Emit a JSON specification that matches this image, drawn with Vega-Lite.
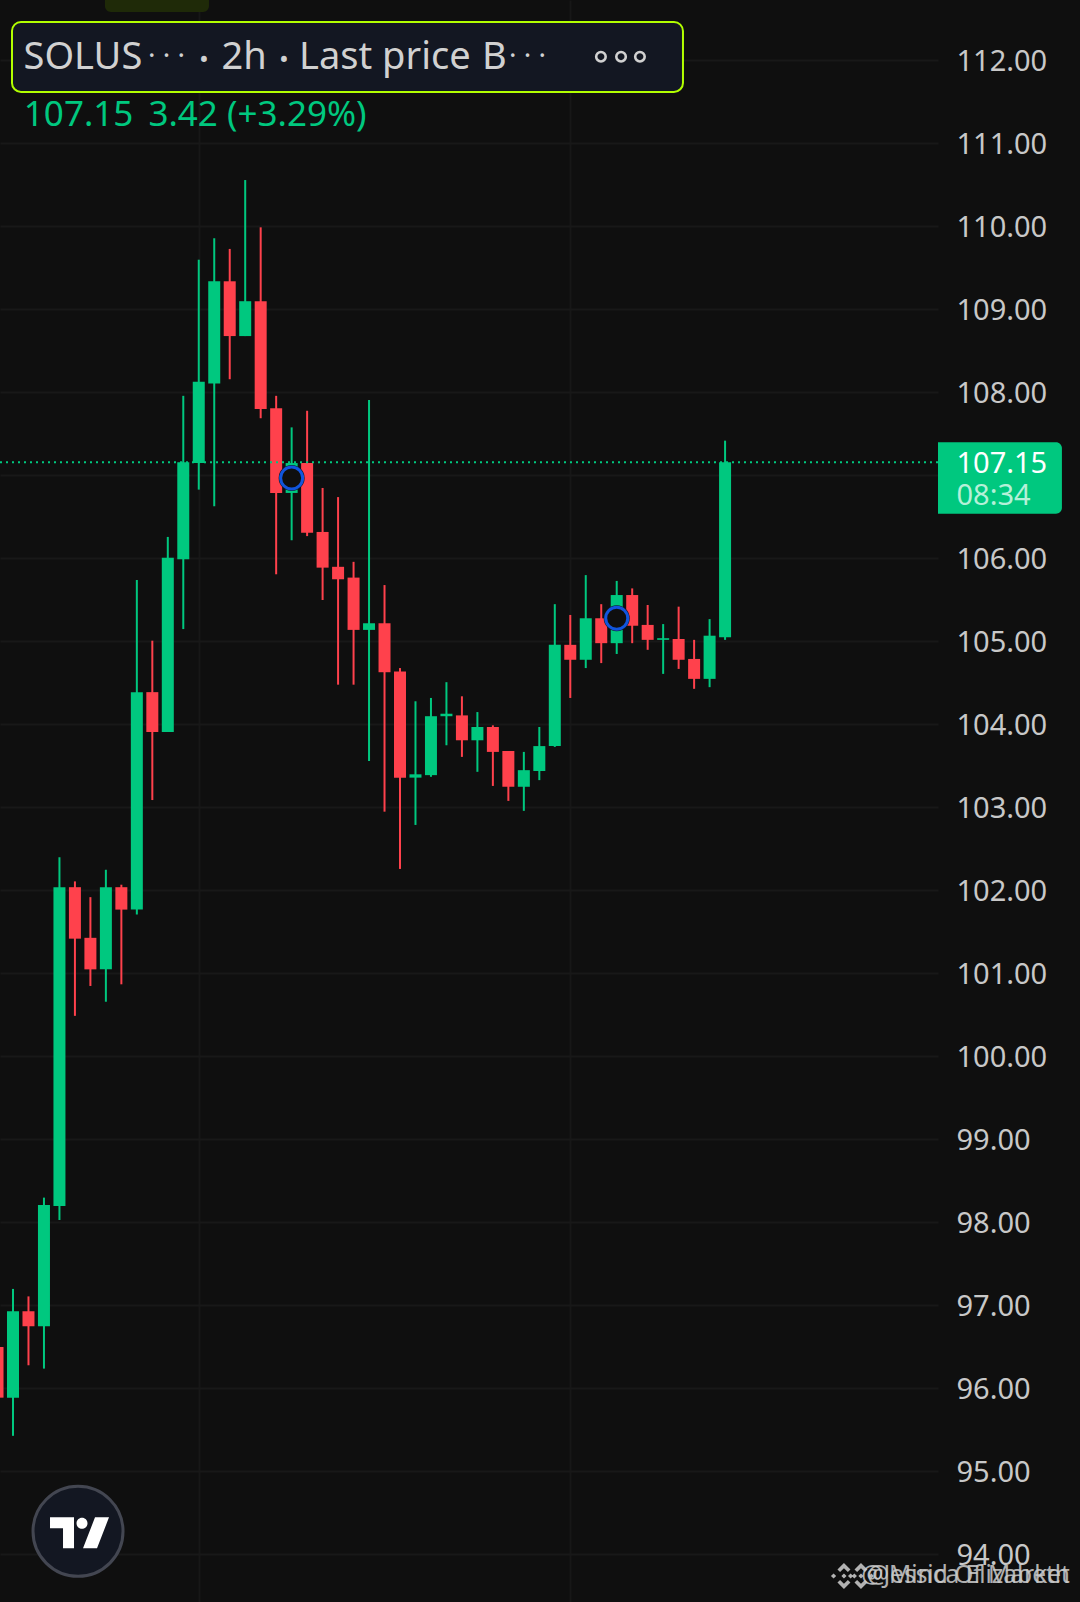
{
  "$schema": "https://vega.github.io/schema/vega-lite/v6.json",
  "width": 938,
  "height": 1602,
  "autosize": {"type": "none"},
  "padding": {"left": 0, "top": 0, "right": 142, "bottom": 0},
  "background": "#0f0f0f",
  "config": {"view": {"stroke": null}, "font": "Noto Sans"},
  "data": {"values": [
    {"candle": -1, "dir": "down", "open": 96.49, "high": 96.49, "low": 95.88, "close": 95.88},
    {"candle": 0, "dir": "up", "open": 95.88, "high": 97.19, "low": 95.42, "close": 96.92},
    {"candle": 1, "dir": "down", "open": 96.92, "high": 97.10, "low": 96.27, "close": 96.74},
    {"candle": 2, "dir": "up", "open": 96.74, "high": 98.29, "low": 96.23, "close": 98.20},
    {"candle": 3, "dir": "up", "open": 98.19, "high": 102.39, "low": 98.02, "close": 102.03},
    {"candle": 4, "dir": "down", "open": 102.03, "high": 102.10, "low": 100.48, "close": 101.41},
    {"candle": 5, "dir": "down", "open": 101.42, "high": 101.91, "low": 100.84, "close": 101.04},
    {"candle": 6, "dir": "up", "open": 101.04, "high": 102.24, "low": 100.65, "close": 102.03},
    {"candle": 7, "dir": "down", "open": 102.03, "high": 102.06, "low": 100.86, "close": 101.76},
    {"candle": 8, "dir": "up", "open": 101.76, "high": 105.73, "low": 101.70, "close": 104.38},
    {"candle": 9, "dir": "down", "open": 104.38, "high": 105.00, "low": 103.08, "close": 103.90},
    {"candle": 10, "dir": "up", "open": 103.90, "high": 106.25, "low": 103.90, "close": 106.00},
    {"candle": 11, "dir": "up", "open": 105.98, "high": 107.95, "low": 105.14, "close": 107.15},
    {"candle": 12, "dir": "up", "open": 107.14, "high": 109.59, "low": 106.82, "close": 108.12},
    {"candle": 13, "dir": "up", "open": 108.10, "high": 109.85, "low": 106.62, "close": 109.33},
    {"candle": 14, "dir": "down", "open": 109.33, "high": 109.72, "low": 108.15, "close": 108.67},
    {"candle": 15, "dir": "up", "open": 108.67, "high": 110.55, "low": 108.67, "close": 109.09},
    {"candle": 16, "dir": "down", "open": 109.09, "high": 109.98, "low": 107.68, "close": 107.79},
    {"candle": 17, "dir": "down", "open": 107.80, "high": 107.95, "low": 105.80, "close": 106.78},
    {"candle": 18, "dir": "up", "open": 106.78, "high": 107.57, "low": 106.21, "close": 107.14},
    {"candle": 19, "dir": "down", "open": 107.14, "high": 107.77, "low": 106.26, "close": 106.30},
    {"candle": 20, "dir": "down", "open": 106.31, "high": 106.84, "low": 105.49, "close": 105.88},
    {"candle": 21, "dir": "down", "open": 105.89, "high": 106.73, "low": 104.47, "close": 105.74},
    {"candle": 22, "dir": "down", "open": 105.76, "high": 105.95, "low": 104.47, "close": 105.13},
    {"candle": 23, "dir": "up", "open": 105.13, "high": 107.90, "low": 103.55, "close": 105.21},
    {"candle": 24, "dir": "down", "open": 105.21, "high": 105.67, "low": 102.94, "close": 104.62},
    {"candle": 25, "dir": "down", "open": 104.63, "high": 104.67, "low": 102.25, "close": 103.35},
    {"candle": 26, "dir": "up", "open": 103.35, "high": 104.27, "low": 102.78, "close": 103.39},
    {"candle": 27, "dir": "up", "open": 103.38, "high": 104.31, "low": 103.36, "close": 104.09},
    {"candle": 28, "dir": "up", "open": 104.09, "high": 104.50, "low": 103.74, "close": 104.12},
    {"candle": 29, "dir": "down", "open": 104.10, "high": 104.33, "low": 103.60, "close": 103.80},
    {"candle": 30, "dir": "up", "open": 103.80, "high": 104.14, "low": 103.42, "close": 103.96},
    {"candle": 31, "dir": "down", "open": 103.96, "high": 103.98, "low": 103.25, "close": 103.66},
    {"candle": 32, "dir": "down", "open": 103.67, "high": 103.67, "low": 103.07, "close": 103.24},
    {"candle": 33, "dir": "up", "open": 103.24, "high": 103.66, "low": 102.95, "close": 103.44},
    {"candle": 34, "dir": "up", "open": 103.43, "high": 103.96, "low": 103.32, "close": 103.73},
    {"candle": 35, "dir": "up", "open": 103.73, "high": 105.44, "low": 103.72, "close": 104.95},
    {"candle": 36, "dir": "down", "open": 104.95, "high": 105.31, "low": 104.31, "close": 104.77},
    {"candle": 37, "dir": "up", "open": 104.77, "high": 105.79, "low": 104.67, "close": 105.27},
    {"candle": 38, "dir": "down", "open": 105.27, "high": 105.44, "low": 104.73, "close": 104.97},
    {"candle": 39, "dir": "up", "open": 104.97, "high": 105.72, "low": 104.84, "close": 105.55},
    {"candle": 40, "dir": "down", "open": 105.55, "high": 105.63, "low": 104.97, "close": 105.18},
    {"candle": 41, "dir": "down", "open": 105.19, "high": 105.43, "low": 104.89, "close": 105.01},
    {"candle": 42, "dir": "up", "open": 105.01, "high": 105.20, "low": 104.60, "close": 105.03},
    {"candle": 43, "dir": "down", "open": 105.02, "high": 105.41, "low": 104.66, "close": 104.77},
    {"candle": 44, "dir": "down", "open": 104.78, "high": 105.01, "low": 104.42, "close": 104.54},
    {"candle": 45, "dir": "up", "open": 104.54, "high": 105.26, "low": 104.44, "close": 105.06},
    {"candle": 46, "dir": "up", "open": 105.04, "high": 107.41, "low": 105.01, "close": 107.15}
  ]},
  "layer": [
    {
      "mark": {"type": "rule", "strokeWidth": 2},
      "encoding": {
        "x": {
          "field": "candle",
          "type": "quantitative",
          "title": null,
          "scale": {"domain": [-0.84, 59.755], "nice": false, "zero": false, "padding": 0},
          "axis": {"values": [12, 36], "grid": true, "gridColor": "#171717", "gridWidth": 2, "domain": false, "ticks": false, "labels": false}
        },
        "y": {
          "field": "high",
          "type": "quantitative",
          "title": null,
          "scale": {"domain": [93.418, 112.719], "nice": false, "zero": false, "padding": 0},
          "axis": {
            "orient": "right",
            "values": [94, 95, 96, 97, 98, 99, 100, 101, 102, 103, 104, 105, 106, 107, 108, 109, 110, 111, 112],
            "format": ".2f",
            "grid": true,
            "gridColor": "#181818",
            "gridWidth": 2,
            "domain": false,
            "ticks": false,
            "labelPadding": 18,
            "labelOffset": 2,
            "labelFont": "Noto Sans",
            "labelFontSize": 29,
            "labelColor": "#c8c8c8",
            "labelAlign": "left",
            "labelBaseline": "middle",
            "labelOverlap": false,
            "labelBound": false,
            "labelFlush": false
          }
        },
        "y2": {"field": "low"},
        "color": {"field": "dir", "type": "nominal", "legend": null, "scale": {"domain": ["up", "down"], "range": ["#00c87f", "#ff414c"]}}
      }
    },
    {
      "mark": {"type": "bar", "size": 12},
      "encoding": {
        "x": {"field": "candle", "type": "quantitative"},
        "y": {"field": "open", "type": "quantitative"},
        "y2": {"field": "close"},
        "color": {"field": "dir", "type": "nominal", "legend": null}
      }
    },
    {
      "data": {"values": [{"price": 107.15}]},
      "mark": {"type": "rule", "color": "#00c87f", "strokeWidth": 2, "strokeDash": [2, 4]},
      "encoding": {"y": {"field": "price", "type": "quantitative"}}
    },
    {
      "data": {"values": [{"candle": 18, "price": 106.96}, {"candle": 39, "price": 105.27}]},
      "mark": {"type": "point", "shape": "circle", "filled": true, "size": 676, "color": "#131722", "opacity": 1},
      "encoding": {"x": {"field": "candle", "type": "quantitative"}, "y": {"field": "price", "type": "quantitative"}}
    },
    {
      "data": {"values": [{"candle": 18, "price": 106.96}, {"candle": 39, "price": 105.27}]},
      "mark": {"type": "point", "shape": "circle", "filled": false, "size": 484, "fill": "#0f0f0f", "stroke": "#1155dd", "strokeWidth": 3, "opacity": 1},
      "encoding": {"x": {"field": "candle", "type": "quantitative"}, "y": {"field": "price", "type": "quantitative"}}
    },
    {
      "data": {"values": [{}]},
      "mark": {"type": "rect", "fill": "#1f2a08", "cornerRadiusBottomLeft": 7, "cornerRadiusBottomRight": 7},
      "encoding": {
        "x": {"datum": 5.94}, "x2": {"datum": 12.66},
        "y": {"datum": 112.719}, "y2": {"datum": 112.575}
      }
    },
    {
      "data": {"values": [{}]},
      "mark": {"type": "rect", "fill": "#131722", "stroke": "#b2ff00", "strokeWidth": 2, "cornerRadius": 9},
      "encoding": {
        "x": {"datum": -0.065}, "x2": {"datum": 43.28},
        "y": {"datum": 112.454}, "y2": {"datum": 111.611}
      }
    },
    {
      "data": {"values": [{"label": "SOLUS", "candle": 0.68}, {"label": "2h", "candle": 13.47}, {"label": "Last price", "candle": 18.48}, {"label": "B", "candle": 30.3}]},
      "mark": {"type": "text", "align": "left", "baseline": "alphabetic", "fontSize": 38, "color": "#d1d1d1"},
      "encoding": {"x": {"field": "candle", "type": "quantitative"}, "y": {"datum": 111.89}, "text": {"field": "label"}}
    },
    {
      "data": {"values": [{"label": "· · ·", "candle": 8.72}, {"label": "· · ·", "candle": 32.04}]},
      "mark": {"type": "text", "align": "left", "baseline": "alphabetic", "fontSize": 28, "color": "#d1d1d1"},
      "encoding": {"x": {"field": "candle", "type": "quantitative"}, "y": {"datum": 111.94}, "text": {"field": "label"}}
    },
    {
      "data": {"values": [{"label": "·", "candle": 12.34}, {"label": "·", "candle": 17.5}]},
      "mark": {"type": "text", "align": "center", "baseline": "alphabetic", "fontSize": 46, "color": "#d1d1d1"},
      "encoding": {"x": {"field": "candle", "type": "quantitative"}, "y": {"datum": 111.81}, "text": {"field": "label"}}
    },
    {
      "data": {"values": [{"candle": 37.98, "price": 112.036}, {"candle": 39.28, "price": 112.036}, {"candle": 40.5, "price": 112.036}]},
      "mark": {"type": "point", "shape": "circle", "filled": false, "size": 90, "stroke": "#d1d1d1", "strokeWidth": 2.6, "opacity": 1},
      "encoding": {"x": {"field": "candle", "type": "quantitative"}, "y": {"field": "price", "type": "quantitative"}}
    },
    {
      "data": {"values": [{"label": "107.15", "candle": 0.7}, {"label": "3.42 (+3.29%)", "candle": 8.75}]},
      "mark": {"type": "text", "align": "left", "baseline": "alphabetic", "fontSize": 35, "color": "#00c87f"},
      "encoding": {
        "x": {"field": "candle", "type": "quantitative"},
        "y": {"datum": 111.195},
        "text": {"field": "label"}
      }
    },
    {
      "data": {"values": [{}]},
      "mark": {"type": "rect", "fill": "#00c87f", "cornerRadiusTopRight": 6, "cornerRadiusBottomRight": 6},
      "encoding": {
        "x": {"datum": 59.755}, "x2": {"datum": 67.76},
        "y": {"datum": 107.39}, "y2": {"datum": 106.53}
      }
    },
    {
      "data": {"values": [{}]},
      "mark": {"type": "text", "text": "107.15", "align": "left", "baseline": "alphabetic", "fontSize": 29, "color": "#ffffff"},
      "encoding": {"x": {"datum": 60.95}, "y": {"datum": 107.02}}
    },
    {
      "data": {"values": [{}]},
      "mark": {"type": "text", "text": "08:34", "align": "left", "baseline": "alphabetic", "fontSize": 29, "color": "#b5f0d8"},
      "encoding": {"x": {"datum": 60.95}, "y": {"datum": 106.63}}
    },
    {
      "data": {"values": [{}]},
      "mark": {"type": "point", "shape": "circle", "filled": false, "size": 8100, "fill": "#131722", "stroke": "#434651", "strokeWidth": 3, "opacity": 1},
      "encoding": {"x": {"datum": 4.2}, "y": {"datum": 94.27}}
    },
    {
      "data": {"values": [{}]},
      "mark": {"type": "point", "shape": "M-.28-.14H-.04V.17H-.15V-.03H-.28ZM.17-.14H.31L.19.17H.05ZM-.015-.08A.055.055 0 1 0 .095-.08A.055.055 0 1 0-.015-.08Z", "filled": true, "size": 40000, "color": "#ffffff", "opacity": 1},
      "encoding": {"x": {"datum": 4.2}, "y": {"datum": 94.27}}
    },
    {
      "data": {"values": [{"candle": 53.68}, {"candle": 54.78}]},
      "mark": {"type": "point", "shape": "M0-1L.5-.5L.3-.3L0-.6L-.3-.3L-.5-.5ZM0 1L.5.5L.3.3L0 .6L-.3.3L-.5.5ZM-1 0L-.8-.2L-.6 0L-.8.2ZM1 0L.8-.2L.6 0L.8.2ZM0-.2L.2 0L0 .2L-.2 0Z", "filled": true, "size": 676, "color": "#c4c4c4", "opacity": 0.9},
      "encoding": {"x": {"field": "candle", "type": "quantitative"}, "y": {"datum": 93.731}}
    },
    {
      "data": {"values": [{"label": "@Mind Of Market"}, {"label": "@Jessica Elizabeth"}]},
      "mark": {"type": "text", "align": "right", "baseline": "alphabetic", "fontSize": 24.5, "color": "#cccccc", "opacity": 0.85},
      "encoding": {
        "x": {"datum": 68.28},
        "y": {"datum": 93.647},
        "text": {"field": "label"}
      }
    }
  ]
}
